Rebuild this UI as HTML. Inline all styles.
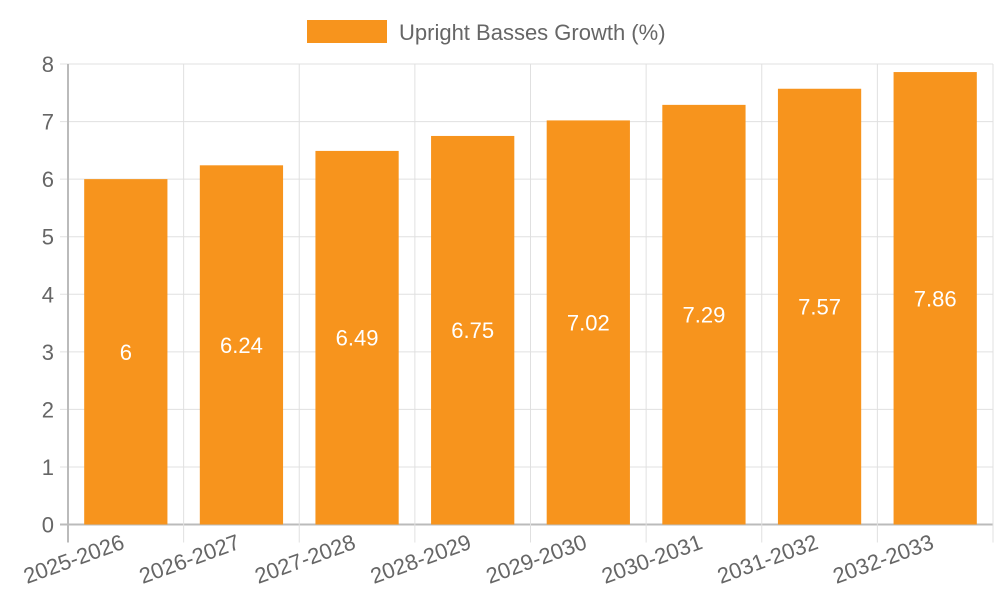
<!DOCTYPE html>
<html><head><meta charset="utf-8"><style>body{margin:0;background:#fff}svg{display:block;font-family:"Liberation Sans",sans-serif}</style></head>
<body>
<svg id="chart" width="1000" height="600">
<g>
<rect x="307" y="20" width="80" height="23" fill="#F7941D"/>
<text x="399" y="40" font-size="22" fill="#666">Upright Basses Growth (%)</text>
</g>
<g id="grid"></g><g id="bars"></g><g id="labels"></g>
</svg>
<script>
const categories=["2025-2026","2026-2027","2027-2028","2028-2029","2029-2030","2030-2031","2031-2032","2032-2033"];
const values=[6,6.24,6.49,6.75,7.02,7.29,7.57,7.86];
const yTicks=[0,1,2,3,4,5,6,7,8];
const L=68,R=993,T=64,B=524.5,yMax=8;
const NS="http://www.w3.org/2000/svg";
const cw=(R-L)/categories.length;
const x=i=>L+i*cw, y=v=>B-(v/yMax)*(B-T);
function mk(tag,a,p){const e=document.createElementNS(NS,tag);for(const k in a)e.setAttribute(k,a[k]);p.appendChild(e);return e;}
const g=document.getElementById('grid'),bg=document.getElementById('bars'),lg=document.getElementById('labels');
yTicks.forEach(t=>{
 const ln=mk('line',{x1:L-8,x2:R,y1:y(t),y2:y(t),stroke:t===0?'#bbb':'#e0e0e0','stroke-width':t===0?2:1},g);
 
 
 const tx=mk('text',{x:L-14,y:y(t)+8,'text-anchor':'end','font-size':22,fill:'#666'},g);
 tx.textContent=t;
 
 
});
for(let i=0;i<=categories.length;i++){
 const ln=mk('line',{x1:x(i),x2:x(i),y1:T,y2:B+18,stroke:i===0?'#bbb':'#e0e0e0','stroke-width':i===0?2:1},g);
 
 
}
categories.forEach((c,i)=>{
 const bw=cw*0.72,bx=x(i)+(cw-bw)/2;
 const r=mk('rect',{x:bx,y:y(values[i]),width:bw,height:B-y(values[i]),fill:'#F7941D'},bg);
 
 
 const vl=mk('text',{x:x(i)+cw/2,y:(y(values[i])+B)/2+8,'text-anchor':'middle','font-size':22,fill:'#fff'},lg);
 vl.textContent=values[i];
 
 
 const cx=x(i)+cw/2;
 const xl=mk('text',{x:cx,y:548,'text-anchor':'end','font-size':22,fill:'#666',transform:`rotate(-20 ${cx} 548)`},lg);
 xl.textContent=c;
 
 
});
</script>
</body></html>
